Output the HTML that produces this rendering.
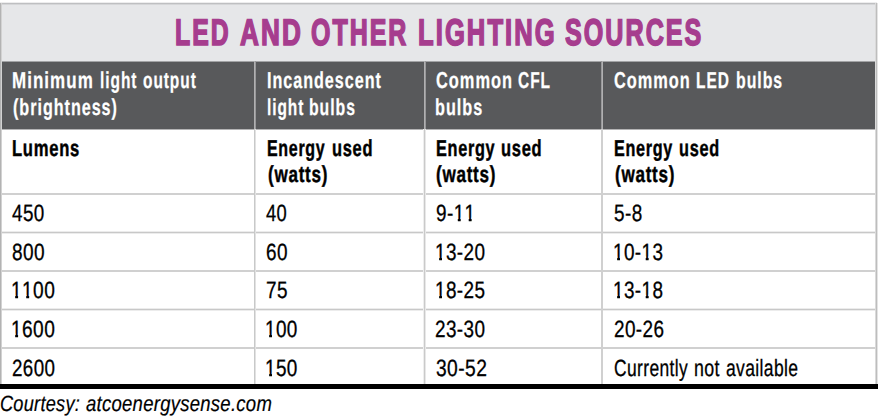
<!DOCTYPE html><html><head><meta charset="utf-8"><style>
html,body{margin:0;padding:0;background:#fff;width:889px;height:420px;overflow:hidden;position:relative}
.t{position:absolute;white-space:nowrap;line-height:normal;text-rendering:geometricPrecision;font-family:"Liberation Sans",sans-serif;transform-origin:0 0}
.b{position:absolute}
.o{display:inline-block;clip-path:polygon(0 0,100% 0,100% 0.74em,0.37em 0.74em,0.37em 100%,0.22em 100%,0.22em 0.74em,0 0.74em)}
</style></head><body><div class="b" style="left:0px;top:3px;width:877px;height:58px;background:#e6e7e9"></div><div class="b" style="left:0px;top:62px;width:877px;height:67px;background:#58595b"></div><div class="b" style="left:0px;top:61px;width:877px;height:1px;background:#a2a3a5"></div><div class="b" style="left:0px;top:129px;width:877px;height:1px;background:#b4b4b5"></div><div class="b" style="left:0px;top:2px;width:877px;height:1px;background:#ededee"></div><div class="b" style="left:0px;top:3px;width:877px;height:1px;background:#bebfc1"></div><div class="b" style="left:0px;top:4px;width:877px;height:1px;background:#d5d6d8"></div><div class="b" style="left:0px;top:193px;width:877px;height:2px;background:#d0d0d0"></div><div class="b" style="left:0px;top:231px;width:877px;height:1px;background:#ececec"></div><div class="b" style="left:0px;top:232px;width:877px;height:1px;background:#c8c8c8"></div><div class="b" style="left:0px;top:233px;width:877px;height:1px;background:#ececec"></div><div class="b" style="left:0px;top:270px;width:877px;height:2px;background:#d0d0d0"></div><div class="b" style="left:0px;top:308px;width:877px;height:1px;background:#ececec"></div><div class="b" style="left:0px;top:309px;width:877px;height:1px;background:#c8c8c8"></div><div class="b" style="left:0px;top:310px;width:877px;height:1px;background:#ececec"></div><div class="b" style="left:0px;top:347px;width:877px;height:2px;background:#d0d0d0"></div><div class="b" style="left:254px;top:129px;width:1px;height:255px;background:#c8c9c9"></div><div class="b" style="left:255px;top:129px;width:1px;height:255px;background:#e2e2e2"></div><div class="b" style="left:423px;top:129px;width:1px;height:255px;background:#eeeeee"></div><div class="b" style="left:424px;top:129px;width:1px;height:255px;background:#cacaca"></div><div class="b" style="left:425px;top:129px;width:1px;height:255px;background:#e8e8e8"></div><div class="b" style="left:601px;top:129px;width:2px;height:255px;background:#d0d0d0"></div><div class="b" style="left:254px;top:61px;width:1px;height:68px;background:#b0b0b1"></div><div class="b" style="left:255px;top:61px;width:1px;height:68px;background:#98989a"></div><div class="b" style="left:424px;top:61px;width:1px;height:68px;background:#b0b0b1"></div><div class="b" style="left:425px;top:61px;width:1px;height:68px;background:#98989a"></div><div class="b" style="left:601px;top:61px;width:1px;height:68px;background:#98989a"></div><div class="b" style="left:602px;top:61px;width:1px;height:68px;background:#b0b0b1"></div><div class="b" style="left:0px;top:3px;width:1px;height:381px;background:#b3b3b3"></div><div class="b" style="left:1px;top:3px;width:1px;height:381px;background:#d2d2d2"></div><div class="b" style="left:875px;top:3px;width:1px;height:381px;background:#dadada"></div><div class="b" style="left:876px;top:3px;width:1px;height:381px;background:#bdbdbd"></div><div class="b" style="left:877px;top:3px;width:1px;height:381px;background:#e4e4e4"></div><div class="b" style="left:0px;top:384px;width:878px;height:5px;background:#000"></div><div class="t" style="left:174.88px;top:12.12px;font-size:37.0px;font-weight:700;letter-spacing:3px;color:#a63d8e;transform:scaleX(0.6697);-webkit-text-stroke:1.6px #a63d8e">LED</div><div class="t" style="left:239.88px;top:12.12px;font-size:37.0px;font-weight:700;letter-spacing:3px;color:#a63d8e;transform:scaleX(0.7075);-webkit-text-stroke:1.6px #a63d8e">AND</div><div class="t" style="left:311.01px;top:12.12px;font-size:37.0px;font-weight:700;letter-spacing:3px;color:#a63d8e;transform:scaleX(0.6734);-webkit-text-stroke:1.6px #a63d8e">OTHER</div><div class="t" style="left:417.94px;top:12.12px;font-size:37.0px;font-weight:700;letter-spacing:3px;color:#a63d8e;transform:scaleX(0.6913);-webkit-text-stroke:1.6px #a63d8e">LIGHTING</div><div class="t" style="left:565.46px;top:12.12px;font-size:37.0px;font-weight:700;letter-spacing:3px;color:#a63d8e;transform:scaleX(0.6785);-webkit-text-stroke:1.6px #a63d8e">SOURCES</div><div class="t" style="left:11.92px;top:67.15px;font-size:23.0px;font-weight:700;letter-spacing:1.4px;color:#fff;transform:scaleX(0.7385);-webkit-text-stroke:0.25px #fff">Minimum</div><div class="t" style="left:99.68px;top:67.15px;font-size:23.0px;font-weight:700;letter-spacing:1.4px;color:#fff;transform:scaleX(0.6736);-webkit-text-stroke:0.25px #fff">light</div><div class="t" style="left:142.99px;top:67.15px;font-size:23.0px;font-weight:700;letter-spacing:1.4px;color:#fff;transform:scaleX(0.6723);-webkit-text-stroke:0.25px #fff">output</div><div class="t" style="left:13.08px;top:93.65px;font-size:23.0px;font-weight:700;letter-spacing:1.4px;color:#fff;transform:scaleX(0.7007);-webkit-text-stroke:0.25px #fff">(brightness)</div><div class="t" style="left:266.77px;top:67.15px;font-size:23.0px;font-weight:700;letter-spacing:1.4px;color:#fff;transform:scaleX(0.7009);-webkit-text-stroke:0.25px #fff">Incandescent</div><div class="t" style="left:266.78px;top:93.65px;font-size:23.0px;font-weight:700;letter-spacing:1.4px;color:#fff;transform:scaleX(0.6717);-webkit-text-stroke:0.25px #fff">light</div><div class="t" style="left:309.49px;top:93.65px;font-size:23.0px;font-weight:700;letter-spacing:1.4px;color:#fff;transform:scaleX(0.6861);-webkit-text-stroke:0.25px #fff">bulbs</div><div class="t" style="left:435.63px;top:67.15px;font-size:23.0px;font-weight:700;letter-spacing:1.4px;color:#fff;transform:scaleX(0.7134);-webkit-text-stroke:0.25px #fff">Common</div><div class="t" style="left:518.27px;top:67.15px;font-size:23.0px;font-weight:700;letter-spacing:1.4px;color:#fff;transform:scaleX(0.6747);-webkit-text-stroke:0.25px #fff">CFL</div><div class="t" style="left:435.27px;top:93.65px;font-size:23.0px;font-weight:700;letter-spacing:1.4px;color:#fff;transform:scaleX(0.7046);-webkit-text-stroke:0.25px #fff">bulbs</div><div class="t" style="left:613.64px;top:67.15px;font-size:23.0px;font-weight:700;letter-spacing:1.4px;color:#fff;transform:scaleX(0.7105);-webkit-text-stroke:0.25px #fff">Common</div><div class="t" style="left:696.21px;top:67.15px;font-size:23.0px;font-weight:700;letter-spacing:1.4px;color:#fff;transform:scaleX(0.6742);-webkit-text-stroke:0.25px #fff">LED</div><div class="t" style="left:735.89px;top:67.15px;font-size:23.0px;font-weight:700;letter-spacing:1.4px;color:#fff;transform:scaleX(0.6892);-webkit-text-stroke:0.25px #fff">bulbs</div><div class="t" style="left:12.13px;top:135.15px;font-size:23.0px;font-weight:700;letter-spacing:1.0px;color:#000;transform:scaleX(0.7220);-webkit-text-stroke:0.45px #000">Lumens</div><div class="t" style="left:267.07px;top:135.15px;font-size:23.0px;font-weight:700;letter-spacing:1.0px;color:#000;transform:scaleX(0.6956);-webkit-text-stroke:0.45px #000">Energy</div><div class="t" style="left:331.57px;top:135.15px;font-size:23.0px;font-weight:700;letter-spacing:1.0px;color:#000;transform:scaleX(0.7145);-webkit-text-stroke:0.45px #000">used</div><div class="t" style="left:435.75px;top:135.15px;font-size:23.0px;font-weight:700;letter-spacing:1.0px;color:#000;transform:scaleX(0.7066);-webkit-text-stroke:0.45px #000">Energy</div><div class="t" style="left:500.97px;top:135.15px;font-size:23.0px;font-weight:700;letter-spacing:1.0px;color:#000;transform:scaleX(0.7182);-webkit-text-stroke:0.45px #000">used</div><div class="t" style="left:614.06px;top:135.15px;font-size:23.0px;font-weight:700;letter-spacing:1.0px;color:#000;transform:scaleX(0.7017);-webkit-text-stroke:0.45px #000">Energy</div><div class="t" style="left:679.08px;top:135.15px;font-size:23.0px;font-weight:700;letter-spacing:1.0px;color:#000;transform:scaleX(0.7072);-webkit-text-stroke:0.45px #000">used</div><div class="t" style="left:267.68px;top:161.15px;font-size:23.0px;font-weight:700;letter-spacing:1.0px;color:#000;transform:scaleX(0.7412);-webkit-text-stroke:0.45px #000">(watts)</div><div class="t" style="left:436.38px;top:161.15px;font-size:23.0px;font-weight:700;letter-spacing:1.0px;color:#000;transform:scaleX(0.7412);-webkit-text-stroke:0.45px #000">(watts)</div><div class="t" style="left:614.68px;top:161.15px;font-size:23.0px;font-weight:700;letter-spacing:1.0px;color:#000;transform:scaleX(0.7412);-webkit-text-stroke:0.45px #000">(watts)</div><div class="t" style="left:12.35px;top:200.15px;font-size:23.5px;font-weight:400;letter-spacing:0.5px;color:#000;transform:scaleX(0.8019);-webkit-text-stroke:0.3px #000">450</div><div class="t" style="left:266.06px;top:200.15px;font-size:23.5px;font-weight:400;letter-spacing:0.5px;color:#000;transform:scaleX(0.7799);-webkit-text-stroke:0.3px #000">40</div><div class="t" style="left:435.50px;top:200.15px;font-size:23.5px;font-weight:400;letter-spacing:0.5px;color:#000;transform:scaleX(0.8056);-webkit-text-stroke:0.3px #000">9-<i class="o" style="font-style:inherit">1</i><i class="o" style="font-style:inherit">1</i></div><div class="t" style="left:613.94px;top:200.15px;font-size:23.5px;font-weight:400;letter-spacing:0.5px;color:#000;transform:scaleX(0.8056);-webkit-text-stroke:0.3px #000">5-8</div><div class="t" style="left:12.04px;top:238.75px;font-size:23.5px;font-weight:400;letter-spacing:0.5px;color:#000;transform:scaleX(0.8096);-webkit-text-stroke:0.3px #000">800</div><div class="t" style="left:265.67px;top:238.75px;font-size:23.5px;font-weight:400;letter-spacing:0.5px;color:#000;transform:scaleX(0.8056);-webkit-text-stroke:0.3px #000">60</div><div class="t" style="left:434.66px;top:238.75px;font-size:23.5px;font-weight:400;letter-spacing:0.5px;color:#000;transform:scaleX(0.8056);-webkit-text-stroke:0.3px #000"><i class="o" style="font-style:inherit">1</i>3-20</div><div class="t" style="left:613.06px;top:238.75px;font-size:23.5px;font-weight:400;letter-spacing:0.5px;color:#000;transform:scaleX(0.8056);-webkit-text-stroke:0.3px #000"><i class="o" style="font-style:inherit">1</i>0-<i class="o" style="font-style:inherit">1</i>3</div><div class="t" style="left:11.14px;top:277.35px;font-size:23.5px;font-weight:400;letter-spacing:0.5px;color:#000;transform:scaleX(0.8147);-webkit-text-stroke:0.3px #000"><i class="o" style="font-style:inherit">1</i><i class="o" style="font-style:inherit">1</i>00</div><div class="t" style="left:265.67px;top:277.35px;font-size:23.5px;font-weight:400;letter-spacing:0.5px;color:#000;transform:scaleX(0.8056);-webkit-text-stroke:0.3px #000">75</div><div class="t" style="left:434.66px;top:277.35px;font-size:23.5px;font-weight:400;letter-spacing:0.5px;color:#000;transform:scaleX(0.8056);-webkit-text-stroke:0.3px #000"><i class="o" style="font-style:inherit">1</i>8-25</div><div class="t" style="left:613.06px;top:277.35px;font-size:23.5px;font-weight:400;letter-spacing:0.5px;color:#000;transform:scaleX(0.8056);-webkit-text-stroke:0.3px #000"><i class="o" style="font-style:inherit">1</i>3-<i class="o" style="font-style:inherit">1</i>8</div><div class="t" style="left:11.14px;top:315.95px;font-size:23.5px;font-weight:400;letter-spacing:0.5px;color:#000;transform:scaleX(0.8147);-webkit-text-stroke:0.3px #000"><i class="o" style="font-style:inherit">1</i>600</div><div class="t" style="left:264.86px;top:315.95px;font-size:23.5px;font-weight:400;letter-spacing:0.5px;color:#000;transform:scaleX(0.8056);-webkit-text-stroke:0.3px #000"><i class="o" style="font-style:inherit">1</i>00</div><div class="t" style="left:435.47px;top:315.95px;font-size:23.5px;font-weight:400;letter-spacing:0.5px;color:#000;transform:scaleX(0.8056);-webkit-text-stroke:0.3px #000">23-30</div><div class="t" style="left:613.87px;top:315.95px;font-size:23.5px;font-weight:400;letter-spacing:0.5px;color:#000;transform:scaleX(0.8056);-webkit-text-stroke:0.3px #000">20-26</div><div class="t" style="left:11.98px;top:354.55px;font-size:23.5px;font-weight:400;letter-spacing:0.5px;color:#000;transform:scaleX(0.7990);-webkit-text-stroke:0.3px #000">2600</div><div class="t" style="left:264.86px;top:354.55px;font-size:23.5px;font-weight:400;letter-spacing:0.5px;color:#000;transform:scaleX(0.8056);-webkit-text-stroke:0.3px #000"><i class="o" style="font-style:inherit">1</i>50</div><div class="t" style="left:435.53px;top:354.55px;font-size:23.5px;font-weight:400;letter-spacing:0.5px;color:#000;transform:scaleX(0.8192);-webkit-text-stroke:0.3px #000">30-52</div><div class="t" style="left:613.93px;top:354.55px;font-size:23.5px;font-weight:400;letter-spacing:0.5px;color:#000;transform:scaleX(0.7422);-webkit-text-stroke:0.3px #000">Currently</div><div class="t" style="left:693.78px;top:354.55px;font-size:23.5px;font-weight:400;letter-spacing:0.5px;color:#000;transform:scaleX(0.7579);-webkit-text-stroke:0.3px #000">not</div><div class="t" style="left:725.80px;top:354.55px;font-size:23.5px;font-weight:400;letter-spacing:0.5px;color:#000;transform:scaleX(0.7448);-webkit-text-stroke:0.3px #000">available</div><div class="t" style="left:0.23px;top:391.43px;font-size:22px;font-weight:400;letter-spacing:0.3px;color:#000;transform:scaleX(0.8262);font-style:italic;-webkit-text-stroke:0.2px #000">Courtesy:</div><div class="t" style="left:85.98px;top:391.43px;font-size:22px;font-weight:400;letter-spacing:0.3px;color:#000;transform:scaleX(0.8422);font-style:italic;-webkit-text-stroke:0.2px #000">atcoenergysense.com</div></body></html>
